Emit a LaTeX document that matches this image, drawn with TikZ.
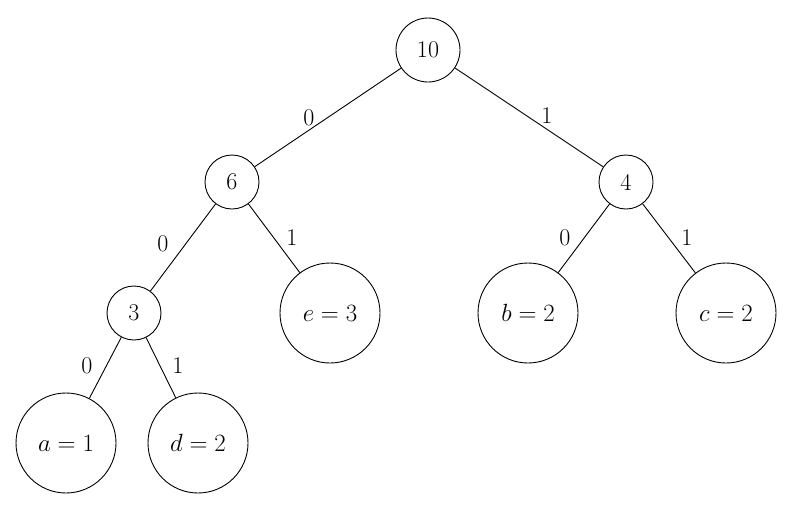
\documentclass[tikz,border=0pt]{standalone}
\begin{document}
\begin{tikzpicture}[x=1pt,y=-1pt,
  every node/.style={font=\fontsize{24}{28}\selectfont},
  sm/.style={circle,draw,line width=0.9pt,inner sep=0pt,minimum size=54pt},
  big/.style={circle,draw,line width=0.9pt,inner sep=0pt,minimum size=100pt},
  top/.style={circle,draw,line width=0.9pt,inner sep=0pt,minimum size=64pt},
  lbl/.style={inner sep=0pt},
  edge/.style={line width=0.9pt}]
\useasboundingbox (0,0) rectangle (790,509);
\node[top] (n10) at (428,50) {10};
\node[sm] (n6) at (232,182) {6};
\node[sm] (n4) at (626,182) {4};
\node[sm] (n3) at (134,313) {3};
\node[big] (e) at (330,313) {$e=3$};
\node[big] (b) at (528,313) {$b=2$};
\node[big] (c) at (726,313) {$c=2$};
\node[big] (a) at (66,443) {$a=1$};
\node[big] (d) at (198,443) {$d=2$};
\draw[edge] (n10)--(n6); \draw[edge] (n10)--(n4);
\draw[edge] (n6)--(n3); \draw[edge] (n6)--(e);
\draw[edge] (n4)--(b); \draw[edge] (n4)--(c);
\draw[edge] (n3)--(a); \draw[edge] (n3)--(d);
\node[lbl] (l1) at (309,118) {0};
\node[lbl] (l2) at (547,116) {1};
\node[lbl] (l3) at (163,244) {0};
\node[lbl] (l4) at (292,238) {1};
\node[lbl] (l5) at (565,238) {0};
\node[lbl] (l6) at (687,238) {1};
\node[lbl] (l7) at (87,366) {0};
\node[lbl] (l8) at (178,366) {1};
\end{tikzpicture}
\end{document}
